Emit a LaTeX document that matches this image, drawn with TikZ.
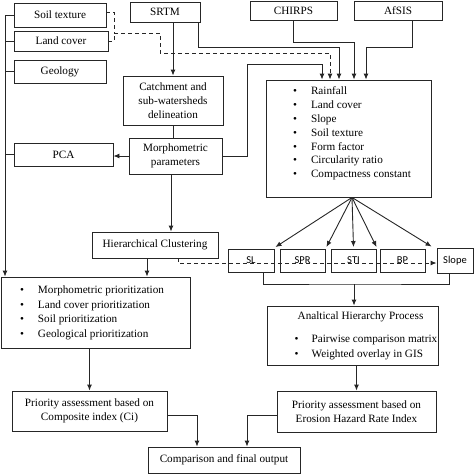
\documentclass[tikz,border=0pt]{standalone}
\usepackage{fontspec}
\setmainfont{Liberation Serif}
\newfontfamily\calibfont{Carlito}
\usetikzlibrary{arrows.meta,calc}
\begin{document}
\begin{tikzpicture}[x=1pt,y=-1pt,
 every node/.style={font=\fontsize{11.2}{14}\selectfont},
 box/.style={draw=black!85,line width=0.9pt,inner sep=0pt,align=center},
 sbox/.style={box,font=\calibfont\fontsize{10.5}{12}\selectfont},
 line/.style={draw=black!85,line width=0.9pt},
 arr/.style={line,-{Latex[length=6pt,width=5pt]}},
 dsh/.style={line,dash pattern=on 4pt off 3pt}]
\useasboundingbox (0,0) rectangle (474,474);
% input boxes
\node[box,minimum width=92pt,minimum height=24pt] (soil) at (60,15) {Soil texture};
\node[box,minimum width=94pt,minimum height=20pt] (land) at (61,41) {Land cover};
\node[box,minimum width=92pt,minimum height=23pt] (geo) at (60,71.5) {Geology};
\node[box,minimum width=70pt,minimum height=20pt] (srtm) at (165,12) {SRTM};
\node[box,minimum width=87pt,minimum height=19pt] (chirps) at (293.5,11) {CHIRPS};
\node[box,minimum width=88pt,minimum height=19pt] (afsis) at (398,11) {AfSIS};
% processing boxes
\node[box,minimum width=100pt,minimum height=49pt] (catch) at (173,100.5) {Catchment and\\sub-watersheds\\delineation};
\node[box,minimum width=93pt,minimum height=36pt] (morph) at (175.5,156) {Morphometric\\parameters};
\node[box,minimum width=99pt,minimum height=23pt] (pca) at (63.5,154.5) {PCA};
\node[box,minimum width=126pt,minimum height=26pt] (hc) at (155,245) {Hierarchical Clustering};
\node[box,minimum width=165pt,minimum height=117pt] (big) at (348.5,138.5)
 {\hspace{7pt}\fontsize{11.2}{13.83}\selectfont\begin{tabular}{@{}c@{\hspace{14pt}}l@{}}
 \textbullet & Rainfall\\
 \textbullet & Land cover\\
 \textbullet & Slope\\
 \textbullet & Soil texture\\
 \textbullet & Form factor\\
 \textbullet & Circularity ratio\\
 \textbullet & Compactness constant\\[10pt]
 \end{tabular}};
\node[box,minimum width=189pt,minimum height=71pt] (prio) at (95.5,312.5)
 {\fontsize{11.2}{14.6}\selectfont\begin{tabular}{@{}c@{\hspace{14pt}}l@{}}
 \textbullet & Morphometric prioritization\\
 \textbullet & Land cover prioritization\\
 \textbullet & Soil prioritization\\
 \textbullet & Geological prioritization
 \end{tabular}\hspace{7pt}};
% factor boxes
\node[sbox,minimum width=46pt,minimum height=23pt] (sl) at (251,260.5) {SL};
\node[sbox,minimum width=45pt,minimum height=23pt] (spr) at (302.5,260.5) {SPR};
\node[sbox,minimum width=45pt,minimum height=23pt] (sti) at (353.5,260.5) {STI};
\node[sbox,minimum width=45pt,minimum height=23pt] (bp) at (402.5,260.5) {BP};
\node[sbox,minimum width=36pt,minimum height=25pt] (slope) at (455,260.5) {Slope};
% AHP and results
\node[box,minimum width=171pt,minimum height=59pt] (ahp) at (352.5,335.5)
 {\hspace{27pt}\fontsize{11.2}{15}\selectfont\begin{tabular}{@{}c@{\hspace{13pt}}l@{}}
 \multicolumn{2}{@{\hspace{3pt}}l@{}}{Analtical Hierarchy Process}\\[8pt]
 \textbullet & Pairwise comparison matrix\\
 \textbullet & Weighted overlay in GIS
 \end{tabular}};
\node[box,minimum width=159pt,minimum height=41pt] (ehr) at (356.5,411.5) {Priority assessment based on\\Erosion Hazard Rate Index};
\node[box,minimum width=155pt,minimum height=40pt] (ci) at (89.5,411) {Priority assessment based on\\Composite index (Ci)};
\node[box,minimum width=152pt,minimum height=26pt] (comp) at (224,460) {Comparison and final output};
% left bus
\coordinate (bus) at (5,0);
\draw[arr] (soil.west) -| (bus |- prio.north);
\draw[line] (land.west) -- (land.west -| bus);
\draw[line] (geo.west) -- (geo.west -| bus);
\draw[line] (pca.west) -- (pca.west -| bus);
% dashed soil / land cover to big box
\coordinate (dj) at (114,33);
\draw[dsh] ($(soil.east)+(0,-3)$) -| (dj);
\draw[dsh] (land.east) -| (dj);
\draw[dsh,-{Latex[length=6pt,width=5pt]}] (dj) -- (160,33) -- (160,53) -| ($(big.north)+(-18.5,0)$);
% sources into big box
\draw[arr] (morph.east) -| (247,64) -| ($(big.north)+(-26.5,0)$);
\draw[arr] ($(srtm.south east)+(-2,0)$) -- ++(0,25) -| ($(big.north)+(-9.5,0)$);
\draw[arr] (chirps.south) -- ++(0,21.5) -| ($(big.north)+(5.5,0)$);
\draw[arr] ($(afsis.south)+(14,0)$) -- ++(0,26.5) -| ($(big.north)+(17.5,0)$);
% main flow
\coordinate (mh) at ($(morph.south)+(-4.5,0)$);
\coordinate (hp) at ($(hc.south)+(-8,0)$);
\coordinate (hd) at ($(hc.south)+(23,0)$);
\draw[arr] (catch.north |- srtm.south) -- (catch.north);
\draw[line] (catch.south) -- (catch.south |- morph.north);
\draw[arr] (morph.west) -- (morph.west -| pca.east);
\draw[arr] (mh) -- (mh |- hc.north);
\draw[arr] (hp) -- (hp |- prio.north);
\draw[dsh,-{Latex[length=6pt,width=5pt]}] (hd) |- ($(slope.west)+(0,2.5)$);
% fan
\coordinate (fan) at ($(big.south)+(3.5,0)$);
\draw[arr] (fan) -- ($(sl.north east)+(1,-1.5)$);
\draw[arr] (fan) -- ($(spr.north east)+(1,-1.5)$);
\draw[arr] (fan) -- ($(sti.north)+(0,-1.5)$);
\draw[arr] (fan) -- ($(bp.north west)+(-3,-1.5)$);
\draw[arr] (fan) -- ($(slope.north west)+(-5,-1)$);
% join to AHP
\coordinate (join) at (354,284);
\draw[line] ($(sl.south)+(12,0)$) |- (join) -| ($(slope.south)+(-6,0)$);
\draw[arr] (join) -- (join |- ahp.north);
\draw[arr] (ehr.north |- ahp.south) -- (ehr.north);
\draw[arr] (ci.north |- prio.south) -- (ci.north);
\draw[arr] ($(ci.east)+(0,4)$) -| ($(comp.north)+(-27,0)$);
\draw[arr] ($(ehr.west)+(0,3.5)$) -| ($(comp.north)+(23,0)$);
\end{tikzpicture}
\end{document}
